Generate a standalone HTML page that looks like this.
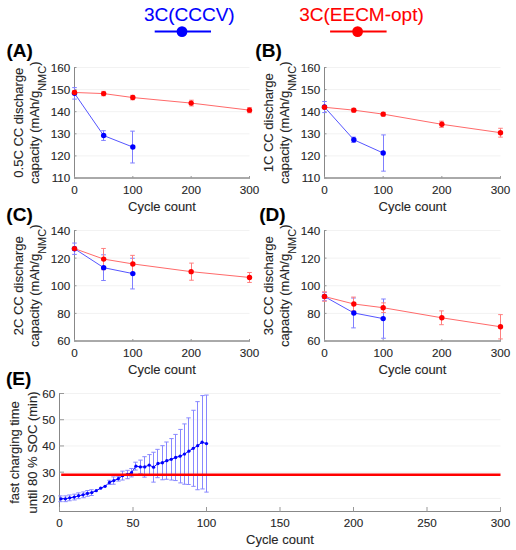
<!DOCTYPE html>
<html><head><meta charset="utf-8"><style>
html,body{margin:0;padding:0;background:#fff;}
svg{display:block;font-family:"Liberation Sans", sans-serif;}
text{stroke-width:0.1px;}
</style></head><body>
<svg width="516" height="550" viewBox="0 0 516 550">
<rect width="516" height="550" fill="#fff"/>
<line x1="74.50" y1="155.90" x2="249.50" y2="155.90" stroke="#f2f2f2" stroke-width="1"/>
<line x1="74.50" y1="133.80" x2="249.50" y2="133.80" stroke="#f2f2f2" stroke-width="1"/>
<line x1="74.50" y1="111.70" x2="249.50" y2="111.70" stroke="#f2f2f2" stroke-width="1"/>
<line x1="74.50" y1="89.60" x2="249.50" y2="89.60" stroke="#f2f2f2" stroke-width="1"/>
<line x1="74.50" y1="67.50" x2="249.50" y2="67.50" stroke="#f2f2f2" stroke-width="1"/>
<line x1="74.50" y1="67.00" x2="74.50" y2="178.00" stroke="#888" stroke-width="1"/>
<line x1="74.00" y1="178.00" x2="250.00" y2="178.00" stroke="#555" stroke-width="1"/>
<line x1="74.50" y1="178.00" x2="76.50" y2="178.00" stroke="#999" stroke-width="1"/>
<text x="70.30" y="182.40" text-anchor="end" font-size="11.7" fill="#262626" stroke="#262626">110</text>
<line x1="74.50" y1="155.90" x2="76.50" y2="155.90" stroke="#999" stroke-width="1"/>
<text x="70.30" y="160.30" text-anchor="end" font-size="11.7" fill="#262626" stroke="#262626">120</text>
<line x1="74.50" y1="133.80" x2="76.50" y2="133.80" stroke="#999" stroke-width="1"/>
<text x="70.30" y="138.20" text-anchor="end" font-size="11.7" fill="#262626" stroke="#262626">130</text>
<line x1="74.50" y1="111.70" x2="76.50" y2="111.70" stroke="#999" stroke-width="1"/>
<text x="70.30" y="116.10" text-anchor="end" font-size="11.7" fill="#262626" stroke="#262626">140</text>
<line x1="74.50" y1="89.60" x2="76.50" y2="89.60" stroke="#999" stroke-width="1"/>
<text x="70.30" y="94.00" text-anchor="end" font-size="11.7" fill="#262626" stroke="#262626">150</text>
<line x1="74.50" y1="67.50" x2="76.50" y2="67.50" stroke="#999" stroke-width="1"/>
<text x="70.30" y="71.90" text-anchor="end" font-size="11.7" fill="#262626" stroke="#262626">160</text>
<line x1="74.50" y1="178.00" x2="74.50" y2="176.00" stroke="#999" stroke-width="1"/>
<text x="74.50" y="193.70" text-anchor="middle" font-size="11.7" fill="#262626" stroke="#262626">0</text>
<line x1="132.83" y1="178.00" x2="132.83" y2="176.00" stroke="#999" stroke-width="1"/>
<text x="132.83" y="193.70" text-anchor="middle" font-size="11.7" fill="#262626" stroke="#262626">100</text>
<line x1="191.17" y1="178.00" x2="191.17" y2="176.00" stroke="#999" stroke-width="1"/>
<text x="191.17" y="193.70" text-anchor="middle" font-size="11.7" fill="#262626" stroke="#262626">200</text>
<line x1="249.50" y1="178.00" x2="249.50" y2="176.00" stroke="#999" stroke-width="1"/>
<text x="249.50" y="193.70" text-anchor="middle" font-size="11.7" fill="#262626" stroke="#262626">300</text>
<text x="162.00" y="210.80" text-anchor="middle" font-size="13" fill="#262626" stroke="#262626">Cycle count</text>
<text transform="translate(22.60 122.75) rotate(-90)" text-anchor="middle" font-size="13" fill="#262626" stroke="#262626">0.5C CC discharge</text>
<text transform="translate(39.30 122.75) rotate(-90)" text-anchor="middle" font-size="13" fill="#262626" stroke="#262626"><tspan>capacity (mAh/g</tspan><tspan font-size="11" dy="6.2">NMC</tspan><tspan dy="-6.2">)</tspan></text>
<path d="M74.50 93.36 L103.67 135.57 L132.83 147.06" fill="none" stroke="#5555ff" stroke-width="1"/>
<path d="M74.50 87.61 V99.10 M72.20 87.61 H76.80 M72.20 99.10 H76.80" fill="none" stroke="#7f7fff" stroke-width="1"/>
<path d="M103.50 130.71 V140.43 M101.20 130.71 H105.80 M101.20 140.43 H105.80" fill="none" stroke="#7f7fff" stroke-width="1"/>
<path d="M132.50 131.15 V162.97 M130.20 131.15 H134.80 M130.20 162.97 H134.80" fill="none" stroke="#7f7fff" stroke-width="1"/>
<path d="M74.50 92.47 L103.67 93.58 L132.83 97.56 L191.17 103.08 L249.50 110.15" fill="none" stroke="#ff6a6a" stroke-width="1"/>
<path d="M74.50 90.70 V94.24 M72.20 90.70 H76.80 M72.20 94.24 H76.80" fill="none" stroke="#ff7f7f" stroke-width="1"/>
<path d="M103.50 91.37 V95.79 M101.20 91.37 H105.80 M101.20 95.79 H105.80" fill="none" stroke="#ff7f7f" stroke-width="1"/>
<path d="M132.50 95.35 V99.77 M130.20 95.35 H134.80 M130.20 99.77 H134.80" fill="none" stroke="#ff7f7f" stroke-width="1"/>
<path d="M191.50 100.21 V105.95 M189.20 100.21 H193.80 M189.20 105.95 H193.80" fill="none" stroke="#ff7f7f" stroke-width="1"/>
<path d="M249.50 107.50 V112.81 M247.20 107.50 H251.80 M247.20 112.81 H251.80" fill="none" stroke="#ff7f7f" stroke-width="1"/>
<circle cx="74.50" cy="93.36" r="2.7" fill="#0000ff"/>
<circle cx="103.67" cy="135.57" r="2.7" fill="#0000ff"/>
<circle cx="132.83" cy="147.06" r="2.7" fill="#0000ff"/>
<circle cx="74.50" cy="92.47" r="2.7" fill="#ff0000"/>
<circle cx="103.67" cy="93.58" r="2.7" fill="#ff0000"/>
<circle cx="132.83" cy="97.56" r="2.7" fill="#ff0000"/>
<circle cx="191.17" cy="103.08" r="2.7" fill="#ff0000"/>
<circle cx="249.50" cy="110.15" r="2.7" fill="#ff0000"/>
<text x="6.45" y="56.8" font-size="19" font-weight="bold" fill="#000" stroke="#000">(A)</text>
<line x1="324.50" y1="155.90" x2="500.50" y2="155.90" stroke="#f2f2f2" stroke-width="1"/>
<line x1="324.50" y1="133.80" x2="500.50" y2="133.80" stroke="#f2f2f2" stroke-width="1"/>
<line x1="324.50" y1="111.70" x2="500.50" y2="111.70" stroke="#f2f2f2" stroke-width="1"/>
<line x1="324.50" y1="89.60" x2="500.50" y2="89.60" stroke="#f2f2f2" stroke-width="1"/>
<line x1="324.50" y1="67.50" x2="500.50" y2="67.50" stroke="#f2f2f2" stroke-width="1"/>
<line x1="324.50" y1="67.00" x2="324.50" y2="178.00" stroke="#888" stroke-width="1"/>
<line x1="324.00" y1="178.00" x2="501.00" y2="178.00" stroke="#555" stroke-width="1"/>
<line x1="324.50" y1="178.00" x2="326.50" y2="178.00" stroke="#999" stroke-width="1"/>
<text x="320.30" y="182.40" text-anchor="end" font-size="11.7" fill="#262626" stroke="#262626">110</text>
<line x1="324.50" y1="155.90" x2="326.50" y2="155.90" stroke="#999" stroke-width="1"/>
<text x="320.30" y="160.30" text-anchor="end" font-size="11.7" fill="#262626" stroke="#262626">120</text>
<line x1="324.50" y1="133.80" x2="326.50" y2="133.80" stroke="#999" stroke-width="1"/>
<text x="320.30" y="138.20" text-anchor="end" font-size="11.7" fill="#262626" stroke="#262626">130</text>
<line x1="324.50" y1="111.70" x2="326.50" y2="111.70" stroke="#999" stroke-width="1"/>
<text x="320.30" y="116.10" text-anchor="end" font-size="11.7" fill="#262626" stroke="#262626">140</text>
<line x1="324.50" y1="89.60" x2="326.50" y2="89.60" stroke="#999" stroke-width="1"/>
<text x="320.30" y="94.00" text-anchor="end" font-size="11.7" fill="#262626" stroke="#262626">150</text>
<line x1="324.50" y1="67.50" x2="326.50" y2="67.50" stroke="#999" stroke-width="1"/>
<text x="320.30" y="71.90" text-anchor="end" font-size="11.7" fill="#262626" stroke="#262626">160</text>
<line x1="324.50" y1="178.00" x2="324.50" y2="176.00" stroke="#999" stroke-width="1"/>
<text x="324.50" y="193.70" text-anchor="middle" font-size="11.7" fill="#262626" stroke="#262626">0</text>
<line x1="383.17" y1="178.00" x2="383.17" y2="176.00" stroke="#999" stroke-width="1"/>
<text x="383.17" y="193.70" text-anchor="middle" font-size="11.7" fill="#262626" stroke="#262626">100</text>
<line x1="441.83" y1="178.00" x2="441.83" y2="176.00" stroke="#999" stroke-width="1"/>
<text x="441.83" y="193.70" text-anchor="middle" font-size="11.7" fill="#262626" stroke="#262626">200</text>
<line x1="500.50" y1="178.00" x2="500.50" y2="176.00" stroke="#999" stroke-width="1"/>
<text x="500.50" y="193.70" text-anchor="middle" font-size="11.7" fill="#262626" stroke="#262626">300</text>
<text x="412.50" y="210.80" text-anchor="middle" font-size="13" fill="#262626" stroke="#262626">Cycle count</text>
<text transform="translate(272.60 122.75) rotate(-90)" text-anchor="middle" font-size="13" fill="#262626" stroke="#262626">1C CC discharge</text>
<text transform="translate(289.30 122.75) rotate(-90)" text-anchor="middle" font-size="13" fill="#262626" stroke="#262626"><tspan>capacity (mAh/g</tspan><tspan font-size="11" dy="6.2">NMC</tspan><tspan dy="-6.2">)</tspan></text>
<path d="M324.50 107.06 L353.83 139.77 L383.17 153.03" fill="none" stroke="#5555ff" stroke-width="1"/>
<path d="M324.50 101.53 V112.58 M322.20 101.53 H326.80 M322.20 112.58 H326.80" fill="none" stroke="#7f7fff" stroke-width="1"/>
<path d="M353.50 137.12 V142.42 M351.20 137.12 H355.80 M351.20 142.42 H355.80" fill="none" stroke="#7f7fff" stroke-width="1"/>
<path d="M383.50 134.91 V171.15 M381.20 134.91 H385.80 M381.20 171.15 H385.80" fill="none" stroke="#7f7fff" stroke-width="1"/>
<path d="M324.50 107.28 L353.83 110.15 L383.17 114.13 L441.83 124.30 L500.50 132.69" fill="none" stroke="#ff6a6a" stroke-width="1"/>
<path d="M324.50 106.40 V108.16 M322.20 106.40 H326.80 M322.20 108.16 H326.80" fill="none" stroke="#ff7f7f" stroke-width="1"/>
<path d="M353.50 108.38 V111.92 M351.20 108.38 H355.80 M351.20 111.92 H355.80" fill="none" stroke="#ff7f7f" stroke-width="1"/>
<path d="M383.50 112.36 V115.90 M381.20 112.36 H385.80 M381.20 115.90 H385.80" fill="none" stroke="#ff7f7f" stroke-width="1"/>
<path d="M441.50 121.20 V127.39 M439.20 121.20 H443.80 M439.20 127.39 H443.80" fill="none" stroke="#ff7f7f" stroke-width="1"/>
<path d="M500.50 128.28 V137.12 M498.20 128.28 H502.80 M498.20 137.12 H502.80" fill="none" stroke="#ff7f7f" stroke-width="1"/>
<circle cx="324.50" cy="107.06" r="2.7" fill="#0000ff"/>
<circle cx="353.83" cy="139.77" r="2.7" fill="#0000ff"/>
<circle cx="383.17" cy="153.03" r="2.7" fill="#0000ff"/>
<circle cx="324.50" cy="107.28" r="2.7" fill="#ff0000"/>
<circle cx="353.83" cy="110.15" r="2.7" fill="#ff0000"/>
<circle cx="383.17" cy="114.13" r="2.7" fill="#ff0000"/>
<circle cx="441.83" cy="124.30" r="2.7" fill="#ff0000"/>
<circle cx="500.50" cy="132.69" r="2.7" fill="#ff0000"/>
<text x="255.35" y="56.8" font-size="19" font-weight="bold" fill="#000" stroke="#000">(B)</text>
<line x1="74.50" y1="313.38" x2="249.50" y2="313.38" stroke="#f2f2f2" stroke-width="1"/>
<line x1="74.50" y1="285.75" x2="249.50" y2="285.75" stroke="#f2f2f2" stroke-width="1"/>
<line x1="74.50" y1="258.12" x2="249.50" y2="258.12" stroke="#f2f2f2" stroke-width="1"/>
<line x1="74.50" y1="230.50" x2="249.50" y2="230.50" stroke="#f2f2f2" stroke-width="1"/>
<line x1="74.50" y1="230.00" x2="74.50" y2="341.00" stroke="#888" stroke-width="1"/>
<line x1="74.00" y1="341.00" x2="250.00" y2="341.00" stroke="#555" stroke-width="1"/>
<line x1="74.50" y1="341.00" x2="76.50" y2="341.00" stroke="#999" stroke-width="1"/>
<text x="70.30" y="345.40" text-anchor="end" font-size="11.7" fill="#262626" stroke="#262626">60</text>
<line x1="74.50" y1="313.38" x2="76.50" y2="313.38" stroke="#999" stroke-width="1"/>
<text x="70.30" y="317.77" text-anchor="end" font-size="11.7" fill="#262626" stroke="#262626">80</text>
<line x1="74.50" y1="285.75" x2="76.50" y2="285.75" stroke="#999" stroke-width="1"/>
<text x="70.30" y="290.15" text-anchor="end" font-size="11.7" fill="#262626" stroke="#262626">100</text>
<line x1="74.50" y1="258.12" x2="76.50" y2="258.12" stroke="#999" stroke-width="1"/>
<text x="70.30" y="262.52" text-anchor="end" font-size="11.7" fill="#262626" stroke="#262626">120</text>
<line x1="74.50" y1="230.50" x2="76.50" y2="230.50" stroke="#999" stroke-width="1"/>
<text x="70.30" y="234.90" text-anchor="end" font-size="11.7" fill="#262626" stroke="#262626">140</text>
<line x1="74.50" y1="341.00" x2="74.50" y2="339.00" stroke="#999" stroke-width="1"/>
<text x="74.50" y="356.70" text-anchor="middle" font-size="11.7" fill="#262626" stroke="#262626">0</text>
<line x1="132.83" y1="341.00" x2="132.83" y2="339.00" stroke="#999" stroke-width="1"/>
<text x="132.83" y="356.70" text-anchor="middle" font-size="11.7" fill="#262626" stroke="#262626">100</text>
<line x1="191.17" y1="341.00" x2="191.17" y2="339.00" stroke="#999" stroke-width="1"/>
<text x="191.17" y="356.70" text-anchor="middle" font-size="11.7" fill="#262626" stroke="#262626">200</text>
<line x1="249.50" y1="341.00" x2="249.50" y2="339.00" stroke="#999" stroke-width="1"/>
<text x="249.50" y="356.70" text-anchor="middle" font-size="11.7" fill="#262626" stroke="#262626">300</text>
<text x="162.00" y="373.80" text-anchor="middle" font-size="13" fill="#262626" stroke="#262626">Cycle count</text>
<text transform="translate(22.60 285.75) rotate(-90)" text-anchor="middle" font-size="13" fill="#262626" stroke="#262626">2C CC discharge</text>
<text transform="translate(39.30 285.75) rotate(-90)" text-anchor="middle" font-size="13" fill="#262626" stroke="#262626"><tspan>capacity (mAh/g</tspan><tspan font-size="11" dy="6.2">NMC</tspan><tspan dy="-6.2">)</tspan></text>
<path d="M74.50 248.73 L103.67 267.66 L132.83 273.60" fill="none" stroke="#5555ff" stroke-width="1"/>
<path d="M74.50 243.07 V254.40 M72.20 243.07 H76.80 M72.20 254.40 H76.80" fill="none" stroke="#7f7fff" stroke-width="1"/>
<path d="M103.50 254.81 V280.50 M101.20 254.81 H105.80 M101.20 280.50 H105.80" fill="none" stroke="#7f7fff" stroke-width="1"/>
<path d="M132.50 258.26 V288.93 M130.20 258.26 H134.80 M130.20 288.93 H134.80" fill="none" stroke="#7f7fff" stroke-width="1"/>
<path d="M74.50 248.59 L103.67 259.09 L132.83 263.93 L191.17 271.66 L249.50 277.46" fill="none" stroke="#ff6a6a" stroke-width="1"/>
<path d="M74.50 247.21 V249.98 M72.20 247.21 H76.80 M72.20 249.98 H76.80" fill="none" stroke="#ff7f7f" stroke-width="1"/>
<path d="M103.50 248.46 V269.73 M101.20 248.46 H105.80 M101.20 269.73 H105.80" fill="none" stroke="#ff7f7f" stroke-width="1"/>
<path d="M132.50 255.36 V272.49 M130.20 255.36 H134.80 M130.20 272.49 H134.80" fill="none" stroke="#ff7f7f" stroke-width="1"/>
<path d="M191.50 263.10 V280.23 M189.20 263.10 H193.80 M189.20 280.23 H193.80" fill="none" stroke="#ff7f7f" stroke-width="1"/>
<path d="M249.50 272.49 V282.44 M247.20 272.49 H251.80 M247.20 282.44 H251.80" fill="none" stroke="#ff7f7f" stroke-width="1"/>
<circle cx="74.50" cy="248.73" r="2.7" fill="#0000ff"/>
<circle cx="103.67" cy="267.66" r="2.7" fill="#0000ff"/>
<circle cx="132.83" cy="273.60" r="2.7" fill="#0000ff"/>
<circle cx="74.50" cy="248.59" r="2.7" fill="#ff0000"/>
<circle cx="103.67" cy="259.09" r="2.7" fill="#ff0000"/>
<circle cx="132.83" cy="263.93" r="2.7" fill="#ff0000"/>
<circle cx="191.17" cy="271.66" r="2.7" fill="#ff0000"/>
<circle cx="249.50" cy="277.46" r="2.7" fill="#ff0000"/>
<text x="6.35" y="221.1" font-size="19" font-weight="bold" fill="#000" stroke="#000">(C)</text>
<line x1="324.50" y1="313.38" x2="500.50" y2="313.38" stroke="#f2f2f2" stroke-width="1"/>
<line x1="324.50" y1="285.75" x2="500.50" y2="285.75" stroke="#f2f2f2" stroke-width="1"/>
<line x1="324.50" y1="258.12" x2="500.50" y2="258.12" stroke="#f2f2f2" stroke-width="1"/>
<line x1="324.50" y1="230.50" x2="500.50" y2="230.50" stroke="#f2f2f2" stroke-width="1"/>
<line x1="324.50" y1="230.00" x2="324.50" y2="341.00" stroke="#888" stroke-width="1"/>
<line x1="324.00" y1="341.00" x2="501.00" y2="341.00" stroke="#555" stroke-width="1"/>
<line x1="324.50" y1="341.00" x2="326.50" y2="341.00" stroke="#999" stroke-width="1"/>
<text x="320.30" y="345.40" text-anchor="end" font-size="11.7" fill="#262626" stroke="#262626">60</text>
<line x1="324.50" y1="313.38" x2="326.50" y2="313.38" stroke="#999" stroke-width="1"/>
<text x="320.30" y="317.77" text-anchor="end" font-size="11.7" fill="#262626" stroke="#262626">80</text>
<line x1="324.50" y1="285.75" x2="326.50" y2="285.75" stroke="#999" stroke-width="1"/>
<text x="320.30" y="290.15" text-anchor="end" font-size="11.7" fill="#262626" stroke="#262626">100</text>
<line x1="324.50" y1="258.12" x2="326.50" y2="258.12" stroke="#999" stroke-width="1"/>
<text x="320.30" y="262.52" text-anchor="end" font-size="11.7" fill="#262626" stroke="#262626">120</text>
<line x1="324.50" y1="230.50" x2="326.50" y2="230.50" stroke="#999" stroke-width="1"/>
<text x="320.30" y="234.90" text-anchor="end" font-size="11.7" fill="#262626" stroke="#262626">140</text>
<line x1="324.50" y1="341.00" x2="324.50" y2="339.00" stroke="#999" stroke-width="1"/>
<text x="324.50" y="356.70" text-anchor="middle" font-size="11.7" fill="#262626" stroke="#262626">0</text>
<line x1="383.17" y1="341.00" x2="383.17" y2="339.00" stroke="#999" stroke-width="1"/>
<text x="383.17" y="356.70" text-anchor="middle" font-size="11.7" fill="#262626" stroke="#262626">100</text>
<line x1="441.83" y1="341.00" x2="441.83" y2="339.00" stroke="#999" stroke-width="1"/>
<text x="441.83" y="356.70" text-anchor="middle" font-size="11.7" fill="#262626" stroke="#262626">200</text>
<line x1="500.50" y1="341.00" x2="500.50" y2="339.00" stroke="#999" stroke-width="1"/>
<text x="500.50" y="356.70" text-anchor="middle" font-size="11.7" fill="#262626" stroke="#262626">300</text>
<text x="412.50" y="373.80" text-anchor="middle" font-size="13" fill="#262626" stroke="#262626">Cycle count</text>
<text transform="translate(272.60 285.75) rotate(-90)" text-anchor="middle" font-size="13" fill="#262626" stroke="#262626">3C CC discharge</text>
<text transform="translate(289.30 285.75) rotate(-90)" text-anchor="middle" font-size="13" fill="#262626" stroke="#262626"><tspan>capacity (mAh/g</tspan><tspan font-size="11" dy="6.2">NMC</tspan><tspan dy="-6.2">)</tspan></text>
<path d="M324.50 296.52 L353.83 312.96 L383.17 318.62" fill="none" stroke="#5555ff" stroke-width="1"/>
<path d="M324.50 292.38 V300.67 M322.20 292.38 H326.80 M322.20 300.67 H326.80" fill="none" stroke="#7f7fff" stroke-width="1"/>
<path d="M353.50 298.04 V327.88 M351.20 298.04 H355.80 M351.20 327.88 H355.80" fill="none" stroke="#7f7fff" stroke-width="1"/>
<path d="M383.50 299.01 V338.24 M381.20 299.01 H385.80 M381.20 338.24 H385.80" fill="none" stroke="#7f7fff" stroke-width="1"/>
<path d="M324.50 296.52 L353.83 303.98 L383.17 307.71 L441.83 317.80 L500.50 326.77" fill="none" stroke="#ff6a6a" stroke-width="1"/>
<path d="M324.50 291.83 V301.22 M322.20 291.83 H326.80 M322.20 301.22 H326.80" fill="none" stroke="#ff7f7f" stroke-width="1"/>
<path d="M353.50 297.08 V310.89 M351.20 297.08 H355.80 M351.20 310.89 H355.80" fill="none" stroke="#ff7f7f" stroke-width="1"/>
<path d="M383.50 302.88 V312.55 M381.20 302.88 H385.80 M381.20 312.55 H385.80" fill="none" stroke="#ff7f7f" stroke-width="1"/>
<path d="M441.50 310.89 V324.70 M439.20 310.89 H443.80 M439.20 324.70 H443.80" fill="none" stroke="#ff7f7f" stroke-width="1"/>
<path d="M500.50 314.62 V338.93 M498.20 314.62 H502.80 M498.20 338.93 H502.80" fill="none" stroke="#ff7f7f" stroke-width="1"/>
<circle cx="324.50" cy="296.52" r="2.7" fill="#0000ff"/>
<circle cx="353.83" cy="312.96" r="2.7" fill="#0000ff"/>
<circle cx="383.17" cy="318.62" r="2.7" fill="#0000ff"/>
<circle cx="324.50" cy="296.52" r="2.7" fill="#ff0000"/>
<circle cx="353.83" cy="303.98" r="2.7" fill="#ff0000"/>
<circle cx="383.17" cy="307.71" r="2.7" fill="#ff0000"/>
<circle cx="441.83" cy="317.80" r="2.7" fill="#ff0000"/>
<circle cx="500.50" cy="326.77" r="2.7" fill="#ff0000"/>
<text x="259.25" y="220.9" font-size="19" font-weight="bold" fill="#000" stroke="#000">(D)</text>
<line x1="59.50" y1="498.39" x2="500.50" y2="498.39" stroke="#f2f2f2" stroke-width="1"/>
<line x1="59.50" y1="472.17" x2="500.50" y2="472.17" stroke="#f2f2f2" stroke-width="1"/>
<line x1="59.50" y1="445.94" x2="500.50" y2="445.94" stroke="#f2f2f2" stroke-width="1"/>
<line x1="59.50" y1="419.72" x2="500.50" y2="419.72" stroke="#f2f2f2" stroke-width="1"/>
<line x1="59.50" y1="393.50" x2="500.50" y2="393.50" stroke="#f2f2f2" stroke-width="1"/>
<line x1="59.50" y1="393.00" x2="59.50" y2="511.50" stroke="#888" stroke-width="1"/>
<line x1="59.00" y1="511.50" x2="501.00" y2="511.50" stroke="#888" stroke-width="1"/>
<line x1="59.50" y1="498.39" x2="64.00" y2="498.39" stroke="#999" stroke-width="1"/>
<text x="55.30" y="502.79" text-anchor="end" font-size="11.7" fill="#262626" stroke="#262626">20</text>
<line x1="59.50" y1="472.17" x2="64.00" y2="472.17" stroke="#999" stroke-width="1"/>
<text x="55.30" y="476.57" text-anchor="end" font-size="11.7" fill="#262626" stroke="#262626">30</text>
<line x1="59.50" y1="445.94" x2="64.00" y2="445.94" stroke="#999" stroke-width="1"/>
<text x="55.30" y="450.34" text-anchor="end" font-size="11.7" fill="#262626" stroke="#262626">40</text>
<line x1="59.50" y1="419.72" x2="64.00" y2="419.72" stroke="#999" stroke-width="1"/>
<text x="55.30" y="424.12" text-anchor="end" font-size="11.7" fill="#262626" stroke="#262626">50</text>
<line x1="59.50" y1="393.50" x2="64.00" y2="393.50" stroke="#999" stroke-width="1"/>
<text x="55.30" y="397.90" text-anchor="end" font-size="11.7" fill="#262626" stroke="#262626">60</text>
<line x1="59.50" y1="511.50" x2="59.50" y2="507.00" stroke="#999" stroke-width="1"/>
<text x="59.50" y="527.20" text-anchor="middle" font-size="11.7" fill="#262626" stroke="#262626">0</text>
<line x1="133.00" y1="511.50" x2="133.00" y2="507.00" stroke="#999" stroke-width="1"/>
<text x="133.00" y="527.20" text-anchor="middle" font-size="11.7" fill="#262626" stroke="#262626">50</text>
<line x1="206.50" y1="511.50" x2="206.50" y2="507.00" stroke="#999" stroke-width="1"/>
<text x="206.50" y="527.20" text-anchor="middle" font-size="11.7" fill="#262626" stroke="#262626">100</text>
<line x1="280.00" y1="511.50" x2="280.00" y2="507.00" stroke="#999" stroke-width="1"/>
<text x="280.00" y="527.20" text-anchor="middle" font-size="11.7" fill="#262626" stroke="#262626">150</text>
<line x1="353.50" y1="511.50" x2="353.50" y2="507.00" stroke="#999" stroke-width="1"/>
<text x="353.50" y="527.20" text-anchor="middle" font-size="11.7" fill="#262626" stroke="#262626">200</text>
<line x1="427.00" y1="511.50" x2="427.00" y2="507.00" stroke="#999" stroke-width="1"/>
<text x="427.00" y="527.20" text-anchor="middle" font-size="11.7" fill="#262626" stroke="#262626">250</text>
<line x1="500.50" y1="511.50" x2="500.50" y2="507.00" stroke="#999" stroke-width="1"/>
<text x="500.50" y="527.20" text-anchor="middle" font-size="11.7" fill="#262626" stroke="#262626">300</text>
<text x="280.00" y="544.00" text-anchor="middle" font-size="13" fill="#262626" stroke="#262626">Cycle count</text>
<text transform="translate(19.20 452.50) rotate(-90)" text-anchor="middle" font-size="13" fill="#262626" stroke="#262626">fast charging time</text>
<text transform="translate(36.60 452.50) rotate(-90)" text-anchor="middle" font-size="13" fill="#262626" stroke="#262626">until 80 % SOC (min)</text>
<path d="M60.97 498.78 L65.38 498.78 L69.79 497.86 L74.20 497.08 L78.61 495.77 L83.02 494.85 L87.43 493.41 L91.84 492.62 L96.25 490.65 L100.66 488.16 L105.07 486.33 L109.48 482.39 L113.89 480.56 L118.30 478.72 L122.71 475.58 L127.12 474.53 L131.53 472.69 L135.94 466.14 L140.35 466.92 L144.76 466.92 L149.17 465.09 L153.58 467.18 L157.99 463.51 L162.40 462.73 L166.81 460.63 L171.22 459.32 L175.63 457.48 L180.04 456.17 L184.45 454.07 L188.86 451.19 L193.27 448.30 L197.68 445.68 L202.09 442.27 L206.50 443.58" fill="none" stroke="#0000ff" stroke-width="1"/>
<path d="M60.50 495.90 V501.67 M58.30 495.90 H62.70 M58.30 501.67 H62.70" fill="none" stroke="#8888ff" stroke-width="1"/>
<path d="M65.50 495.90 V501.67 M63.30 495.90 H67.70 M63.30 501.67 H67.70" fill="none" stroke="#8888ff" stroke-width="1"/>
<path d="M69.50 494.98 V500.75 M67.30 494.98 H71.70 M67.30 500.75 H71.70" fill="none" stroke="#8888ff" stroke-width="1"/>
<path d="M74.50 494.19 V499.96 M72.30 494.19 H76.70 M72.30 499.96 H76.70" fill="none" stroke="#8888ff" stroke-width="1"/>
<path d="M78.50 492.88 V498.65 M76.30 492.88 H80.70 M76.30 498.65 H80.70" fill="none" stroke="#8888ff" stroke-width="1"/>
<path d="M83.50 491.96 V497.73 M81.30 491.96 H85.70 M81.30 497.73 H85.70" fill="none" stroke="#8888ff" stroke-width="1"/>
<path d="M87.50 490.52 V496.29 M85.30 490.52 H89.70 M85.30 496.29 H89.70" fill="none" stroke="#8888ff" stroke-width="1"/>
<path d="M91.50 489.74 V495.50 M89.30 489.74 H93.70 M89.30 495.50 H93.70" fill="none" stroke="#8888ff" stroke-width="1"/>
<path d="M109.50 480.30 V484.49 M107.30 480.30 H111.70 M107.30 484.49 H111.70" fill="none" stroke="#8888ff" stroke-width="1"/>
<path d="M113.50 476.89 V484.23 M111.30 476.89 H115.70 M111.30 484.23 H115.70" fill="none" stroke="#8888ff" stroke-width="1"/>
<path d="M118.50 476.36 V481.08 M116.30 476.36 H120.70 M116.30 481.08 H120.70" fill="none" stroke="#8888ff" stroke-width="1"/>
<path d="M122.50 471.12 V480.03 M120.30 471.12 H124.70 M120.30 480.03 H124.70" fill="none" stroke="#8888ff" stroke-width="1"/>
<path d="M127.50 470.33 V478.72 M125.30 470.33 H129.70 M125.30 478.72 H129.70" fill="none" stroke="#8888ff" stroke-width="1"/>
<path d="M131.50 468.50 V476.89 M129.30 468.50 H133.70 M129.30 476.89 H133.70" fill="none" stroke="#8888ff" stroke-width="1"/>
<path d="M135.50 462.20 V470.07 M133.30 462.20 H137.70 M133.30 470.07 H137.70" fill="none" stroke="#8888ff" stroke-width="1"/>
<path d="M140.50 460.10 V473.74 M138.30 460.10 H142.70 M138.30 473.74 H142.70" fill="none" stroke="#8888ff" stroke-width="1"/>
<path d="M144.50 456.70 V477.15 M142.30 456.70 H146.70 M142.30 477.15 H146.70" fill="none" stroke="#8888ff" stroke-width="1"/>
<path d="M149.50 454.60 V475.58 M147.30 454.60 H151.70 M147.30 475.58 H151.70" fill="none" stroke="#8888ff" stroke-width="1"/>
<path d="M153.50 452.24 V482.13 M151.30 452.24 H155.70 M151.30 482.13 H155.70" fill="none" stroke="#8888ff" stroke-width="1"/>
<path d="M157.50 449.35 V477.67 M155.30 449.35 H159.70 M155.30 477.67 H159.70" fill="none" stroke="#8888ff" stroke-width="1"/>
<path d="M162.50 445.68 V479.77 M160.30 445.68 H164.70 M160.30 479.77 H164.70" fill="none" stroke="#8888ff" stroke-width="1"/>
<path d="M166.50 442.01 V479.25 M164.30 442.01 H168.70 M164.30 479.25 H168.70" fill="none" stroke="#8888ff" stroke-width="1"/>
<path d="M171.50 438.60 V480.03 M169.30 438.60 H173.70 M169.30 480.03 H173.70" fill="none" stroke="#8888ff" stroke-width="1"/>
<path d="M175.50 434.41 V480.56 M173.30 434.41 H177.70 M173.30 480.56 H177.70" fill="none" stroke="#8888ff" stroke-width="1"/>
<path d="M180.50 429.42 V482.92 M178.30 429.42 H182.70 M178.30 482.92 H182.70" fill="none" stroke="#8888ff" stroke-width="1"/>
<path d="M184.50 423.92 V484.23 M182.30 423.92 H186.70 M182.30 484.23 H186.70" fill="none" stroke="#8888ff" stroke-width="1"/>
<path d="M188.50 417.89 V484.49 M186.30 417.89 H190.70 M186.30 484.49 H190.70" fill="none" stroke="#8888ff" stroke-width="1"/>
<path d="M193.50 410.28 V486.33 M191.30 410.28 H195.70 M191.30 486.33 H195.70" fill="none" stroke="#8888ff" stroke-width="1"/>
<path d="M197.50 401.63 V489.74 M195.30 401.63 H199.70 M195.30 489.74 H199.70" fill="none" stroke="#8888ff" stroke-width="1"/>
<path d="M202.50 395.60 V488.95 M200.30 395.60 H204.70 M200.30 488.95 H204.70" fill="none" stroke="#8888ff" stroke-width="1"/>
<path d="M206.50 395.07 V492.10 M204.30 395.07 H208.70 M204.30 492.10 H208.70" fill="none" stroke="#8888ff" stroke-width="1"/>
<circle cx="60.97" cy="498.78" r="1.65" fill="#0000ff"/>
<circle cx="65.38" cy="498.78" r="1.65" fill="#0000ff"/>
<circle cx="69.79" cy="497.86" r="1.65" fill="#0000ff"/>
<circle cx="74.20" cy="497.08" r="1.65" fill="#0000ff"/>
<circle cx="78.61" cy="495.77" r="1.65" fill="#0000ff"/>
<circle cx="83.02" cy="494.85" r="1.65" fill="#0000ff"/>
<circle cx="87.43" cy="493.41" r="1.65" fill="#0000ff"/>
<circle cx="91.84" cy="492.62" r="1.65" fill="#0000ff"/>
<circle cx="96.25" cy="490.65" r="1.65" fill="#0000ff"/>
<circle cx="100.66" cy="488.16" r="1.65" fill="#0000ff"/>
<circle cx="105.07" cy="486.33" r="1.65" fill="#0000ff"/>
<circle cx="109.48" cy="482.39" r="1.65" fill="#0000ff"/>
<circle cx="113.89" cy="480.56" r="1.65" fill="#0000ff"/>
<circle cx="118.30" cy="478.72" r="1.65" fill="#0000ff"/>
<circle cx="122.71" cy="475.58" r="1.65" fill="#0000ff"/>
<circle cx="127.12" cy="474.53" r="1.65" fill="#0000ff"/>
<circle cx="131.53" cy="472.69" r="1.65" fill="#0000ff"/>
<circle cx="135.94" cy="466.14" r="1.65" fill="#0000ff"/>
<circle cx="140.35" cy="466.92" r="1.65" fill="#0000ff"/>
<circle cx="144.76" cy="466.92" r="1.65" fill="#0000ff"/>
<circle cx="149.17" cy="465.09" r="1.65" fill="#0000ff"/>
<circle cx="153.58" cy="467.18" r="1.65" fill="#0000ff"/>
<circle cx="157.99" cy="463.51" r="1.65" fill="#0000ff"/>
<circle cx="162.40" cy="462.73" r="1.65" fill="#0000ff"/>
<circle cx="166.81" cy="460.63" r="1.65" fill="#0000ff"/>
<circle cx="171.22" cy="459.32" r="1.65" fill="#0000ff"/>
<circle cx="175.63" cy="457.48" r="1.65" fill="#0000ff"/>
<circle cx="180.04" cy="456.17" r="1.65" fill="#0000ff"/>
<circle cx="184.45" cy="454.07" r="1.65" fill="#0000ff"/>
<circle cx="188.86" cy="451.19" r="1.65" fill="#0000ff"/>
<circle cx="193.27" cy="448.30" r="1.65" fill="#0000ff"/>
<circle cx="197.68" cy="445.68" r="1.65" fill="#0000ff"/>
<circle cx="202.09" cy="442.27" r="1.65" fill="#0000ff"/>
<circle cx="206.50" cy="443.58" r="1.65" fill="#0000ff"/>
<line x1="61.2" y1="474.7" x2="500.5" y2="474.7" stroke="#ff0000" stroke-width="2.4"/>
<text x="5.95" y="385.0" font-size="19" font-weight="bold" fill="#000" stroke="#000">(E)</text>
<text x="143.9" y="20.6" font-size="19" fill="#0000ff" stroke="#0000ff">3C(CCCV)</text>
<line x1="154.7" y1="31.6" x2="211" y2="31.6" stroke="#0000ff" stroke-width="2"/>
<circle cx="182" cy="31.6" r="5.4" fill="#0000ff"/>
<text x="299.2" y="21.3" font-size="19" fill="#ff0000" stroke="#ff0000">3C(EECM-opt)</text>
<line x1="330.1" y1="31.6" x2="386.6" y2="31.6" stroke="#ff0000" stroke-width="2"/>
<circle cx="357.6" cy="31.6" r="5.4" fill="#ff0000"/>
</svg>
</body></html>
